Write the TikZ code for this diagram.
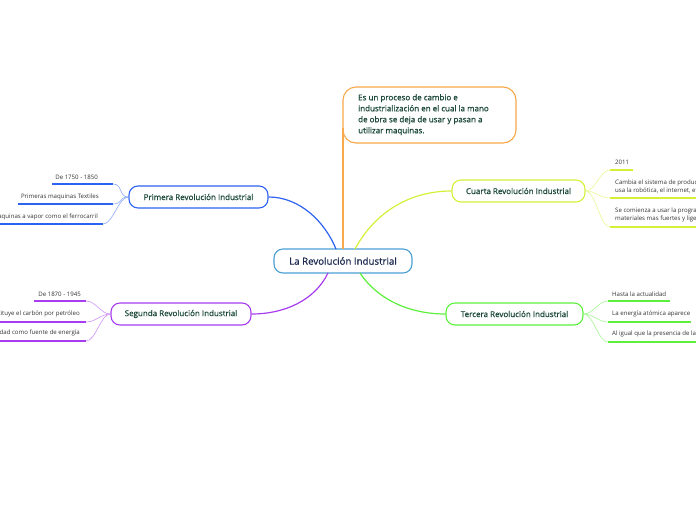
\documentclass[tikz,border=0pt]{standalone}
\usepackage{fontspec}
\setmainfont{Open Sans}
\newfontfamily\medfont[FakeBold=0.7]{Open Sans}
\definecolor{txtgreen}{HTML}{1D4A3A}
\definecolor{txtnavy}{HTML}{1B2A4E}
\definecolor{cblue}{HTML}{2D63F0}
\definecolor{cpurple}{HTML}{A83CF0}
\definecolor{cyellow}{HTML}{D6F03A}
\definecolor{cgreen}{HTML}{5CF03C}
\definecolor{corange}{HTML}{F7A84A}
\definecolor{ccentral}{HTML}{4A9FD5}
\begin{document}
\begin{tikzpicture}[
        x=1pt, y=-1pt,
        topic/.style={draw=#1, line width=1.1pt, rounded corners=9pt, fill=white,
            text=txtgreen, font=\medfont\fontsize{8}{9}\selectfont, minimum height=22pt, inner sep=0pt},
        leaf/.style={text=black!80, font=\fontsize{6.1}{8.5}\selectfont, inner sep=0pt, align=left},
        bar/.style={line width=1.5pt, draw=#1},
        twig/.style={draw=#1!55, line width=0.6pt},
        branch/.style={draw=#1, line width=1.2pt}
    ]
        \useasboundingbox (0,0) rectangle (696,520);

        \node [topic=ccentral, text=txtnavy, font=\medfont\fontsize{9.7}{11}\selectfont,
            minimum width=138pt, minimum height=24pt] (root) at (343,261) {La Revolución Industrial};

        \node [topic=corange, rounded corners=13pt, minimum width=173pt, minimum height=56pt] (nota) at (429.5,115) {};
        \node [text=txtgreen, font=\medfont\fontsize{8}{11}\selectfont, align=left, anchor=north west, inner sep=0pt]
            (notatxt) at (358,94) {Es un proceso de cambio e\\industrialización en el cual la mano\\de obra se deja de usar y pasan a\\utilizar maquinas.};

        \node [topic=cblue,   minimum width=139pt] (prim) at (198.5,197) {Primera Revolución Industrial};
        \node [topic=cpurple, minimum width=140pt] (seg)  at (181,314)   {Segunda Revolución Industrial};
        \node [topic=cyellow, minimum width=133pt] (cuar) at (518.5,191) {Cuarta Revolución Industrial};
        \node [topic=cgreen,  minimum width=137pt] (terc) at (514.5,314) {Tercera Revolución Industrial};

        % main branches
        \coordinate (rn) at (343,249);
        \draw [branch=corange] (rn) -- (343,128);
        \draw [branch=cblue]   (prim.east) .. controls (300,197) and (325,222) .. (336,249);
        \draw [branch=cyellow] (355,249) .. controls (375,212) and (410,191) .. (cuar.west);
        \draw [branch=cpurple] (328,273) .. controls (315,300) and (285,314) .. (seg.east);
        \draw [branch=cgreen]  (360,273) .. controls (378,300) and (410,314) .. (terc.west);

        % Primera
        \node [leaf, anchor=east] (p1) at (98,177) {De 1750 - 1850};
        \node [leaf, anchor=east] (p2) at (99,197) {Primeras maquinas Textiles};
        \node [leaf, anchor=east] (p3) at (98,217) {Maquinas a vapor como el ferrocarril};
        \coordinate (p1e) at (113,184); \coordinate (p2e) at (113,204); \coordinate (p3e) at (103,224);
        \draw [bar=cblue] (p1e) -- (52,184);
        \draw [bar=cblue] (p2e) -- (18,204);
        \draw [bar=cblue] (p3e) -- (-5,224);
        \foreach \e in {p1e,p2e,p3e}
            \draw [twig=cblue] (prim.west) .. controls +(-10,0) and +(10,0) .. (\e);

        % Segunda
        \node [leaf, anchor=east] (s1) at (81,294) {De 1870 - 1945};
        \node [leaf, anchor=east] (s2) at (80,314) {Se sustituye el carbón por petróleo};
        \node [leaf, anchor=east] (s3) at (80,333) {La electricidad como fuente de energía};
        \coordinate (s1e) at (86,301); \coordinate (s2e) at (86,322); \coordinate (s3e) at (86,341);
        \draw [bar=cpurple] (s1e) -- (34,301);
        \draw [bar=cpurple] (s2e) -- (-5,322);
        \draw [bar=cpurple] (s3e) -- (-5,341);
        \foreach \e in {s1e,s2e,s3e}
            \draw [twig=cpurple] (seg.west) .. controls +(-10,0) and +(10,0) .. (\e);

        % Cuarta
        \node [leaf, anchor=west] (c1) at (615,162) {2011};
        \node [leaf, anchor=west] (c2) at (615,186.5) {Cambia el sistema de producción,\\usa la robótica, el internet, etc.};
        \node [leaf, anchor=west] (c3) at (615,215) {Se comienza a usar la programación,\\materiales mas fuertes y ligeros};
        \coordinate (c1e) at (610,170); \coordinate (c2e) at (610,198); \coordinate (c3e) at (610,227);
        \draw [bar=cyellow] (c1e) -- (633,170);
        \draw [bar=cyellow] (c2e) -- (701,198);
        \draw [bar=cyellow] (c3e) -- (701,227);
        \foreach \e in {c1e,c2e,c3e}
            \draw [twig=cyellow] (cuar.east) .. controls +(10,0) and +(-10,0) .. (\e);

        % Tercera
        \node [leaf, anchor=west] (t1) at (612,294) {Hasta la actualidad};
        \node [leaf, anchor=west] (t2) at (612,314) {La energía atómica aparece};
        \node [leaf, anchor=west] (t3) at (612,334) {Al igual que la presencia de la computadora};
        \coordinate (t1e) at (608,301); \coordinate (t2e) at (608,322); \coordinate (t3e) at (608,342);
        \draw [bar=cgreen] (t1e) -- (670,301);
        \draw [bar=cgreen] (t2e) -- (691,322);
        \draw [bar=cgreen] (t3e) -- (701,342);
        \foreach \e in {t1e,t2e,t3e}
            \draw [twig=cgreen] (terc.east) .. controls +(10,0) and +(-10,0) .. (\e);
    \end{tikzpicture}
\end{document}
